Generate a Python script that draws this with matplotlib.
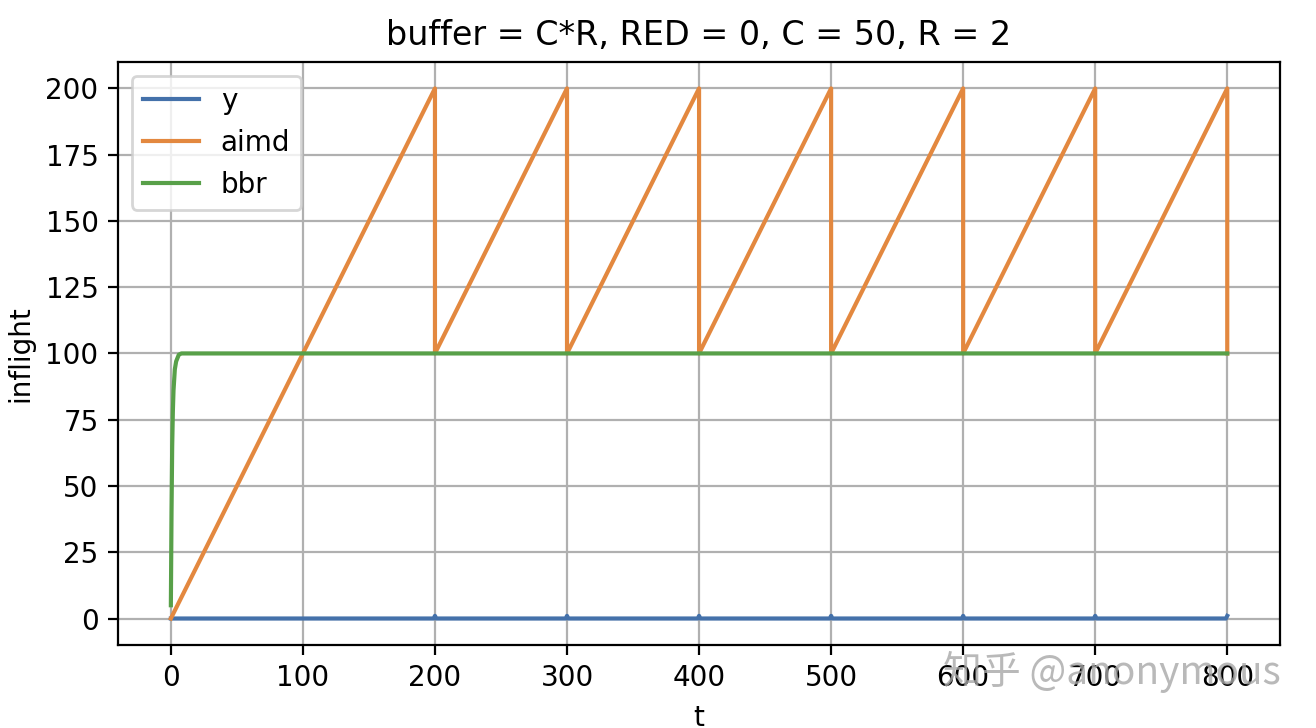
import matplotlib.pyplot as plt

# y: stays at zero, tiny blips at each loss event
y_t = [0, 199, 200, 201, 299, 300, 301, 399, 400, 401, 499, 500, 501,
       599, 600, 601, 699, 700, 701, 799, 800]
y_v = [0, 0, 1, 0, 0, 1, 0, 0, 1, 0, 0, 1, 0, 0, 1, 0, 0, 1, 0, 0, 1]

# aimd: sawtooth between 100 and 200
aimd_t = [0, 200, 200, 300, 300, 400, 400, 500, 500, 600, 600, 700, 700, 800, 800]
aimd_v = [0, 200, 100, 200, 100, 200, 100, 200, 100, 200, 100, 200, 100, 200, 100]

# bbr: fast ramp up to 100
bbr_t = [0, 0.5, 1, 1.5, 2, 3, 4, 6, 8, 800]
bbr_v = [5, 40, 65, 78, 86, 94, 97, 99.5, 100, 100]

colors = ['#4471AA', '#E3883F', '#58A049']


def main():
	fig = plt.figure(figsize=(6.58, 3.64), dpi=200)
	ax = fig.add_axes([0.0897, 0.114, 0.883, 0.801])
	ax.plot(y_t, y_v, color=colors[0], label='y')
	ax.plot(aimd_t, aimd_v, color=colors[1], label='aimd')
	ax.plot(bbr_t, bbr_v, color=colors[2], label='bbr')
	ax.set_ylim(-10, 210)
	ax.set_xlim(-40, 840)
	ax.set_yticks(range(0, 201, 25))
	ax.grid(True)
	ax.set_xlabel('t')
	ax.set_ylabel('inflight')
	ax.set_title('buffer = C*R, RED = 0, C = 50, R = 2')
	ax.legend(loc='upper left')
	# site watermark seen in the source image
	fig.text(0.7165, 0.06, '知乎 @anonymous', fontsize=14, color='#a8a8a8', alpha=0.8,
		family=['Noto Sans CJK SC', 'DejaVu Sans'])
	fig.savefig('out.png', dpi=200)


if __name__ == "__main__":
	main()
